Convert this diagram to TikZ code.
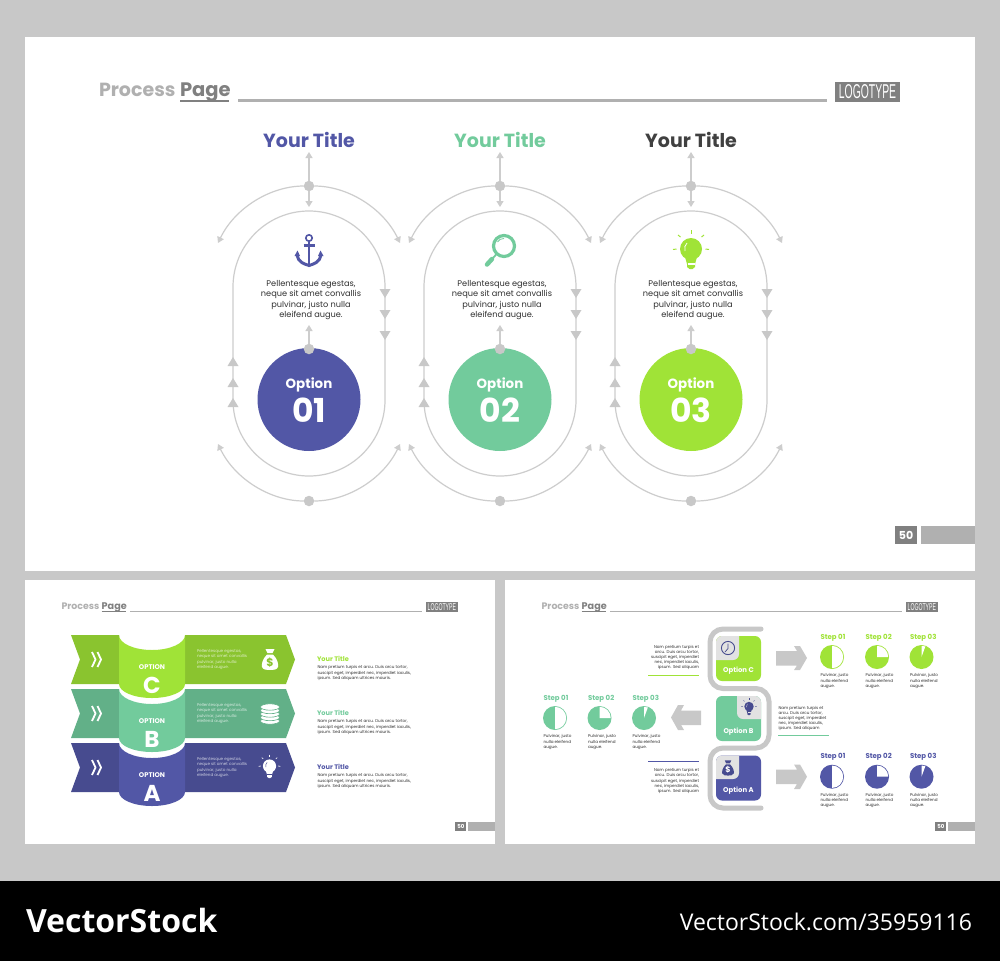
\documentclass[tikz,border=0pt]{standalone}
\usepackage{fontspec}
\setmainfont{Poppins}
\newfontfamily\logofont[FakeStretch=0.52]{Liberation Sans}
\newfontfamily\bandfont{Open Sans}
\usetikzlibrary{arrows.meta}
\definecolor{bluec}{HTML}{5257A6}
\definecolor{greenc}{HTML}{72CB9C}
\definecolor{limec}{HTML}{A0E337}
\definecolor{rblue}{HTML}{474B8F}
\definecolor{rgreen}{HTML}{62B088}
\definecolor{rlime}{HTML}{8AC42F}
\definecolor{pagegray}{HTML}{C8C8C8}
\definecolor{midgray}{HTML}{B0B0B0}
\definecolor{darkgray}{HTML}{808080}
\definecolor{linegray}{HTML}{CDCDCD}
\definecolor{cornerg}{HTML}{E2E2E2}
\definecolor{titled}{HTML}{404040}
\definecolor{bodyt}{HTML}{303030}
\tikzset{
  >={Triangle[width=7pt,length=6pt]},
  x=1pt,y=-1pt,
  every node/.style={inner sep=0pt,outer sep=0pt},
  wire/.style={draw=linegray,line width=1.2pt},
  dotn/.style={circle,fill=pagegray,minimum size=10.5pt},
  stadium/.style={wire,rounded corners=76pt,minimum width=152pt,minimum height=265pt},
  bigc/.style={circle,minimum size=103pt},
  ttl/.style={font=\fontsize{19}{19}\selectfont\bfseries},
  tbody/.style={align=center,text=bodyt,font=\fontsize{8.2}{10.4}\selectfont},
  small/.style={align=left,anchor=west,text=bodyt,font=\fontsize{4.1}{5.2}\selectfont},
  smallr/.style={small,align=right,anchor=east},
  stept/.style={anchor=west,font=\fontsize{7}{7}\selectfont\bfseries},
  blockarrow/.style={fill=pagegray},
  snake/.style={draw=pagegray,line width=5pt,rounded corners=13pt,line cap=round}
}
\newcommand\panelbox[4]{%
\begin{scope}[shift={(#2,#3)},scale=#4,every node/.append style={transform shape}]
\fill[white](0,0)rectangle(950,534);
\node(#1pr)[anchor=base west,text=midgray,font=\fontsize{19}{19}\selectfont\bfseries]at(74,59.5){Process};
\node(#1pg)[anchor=base west,text=darkgray,font=\fontsize{19.5}{19}\selectfont\bfseries]at(155,59.5){Page};
\coordinate(#1a)at(213,63.7);
\coordinate(#1b)at(802,63.7);
\coordinate(#1c)at(155,64);
\coordinate(#1d)at(204,64);
\draw[midgray,line width=#4*3pt](#1a)--(#1b);
\draw[darkgray,line width=#4*2pt](#1c)--(#1d);
\node(#1lg)[fill=darkgray,text=white,minimum width=65pt,minimum height=20pt,font=\logofont\fontsize{20}{20}\selectfont]at(842.5,55){LOGOTYPE};
\node(#1no)[fill=darkgray,text=white,minimum width=22pt,minimum height=18pt,font=\fontsize{11}{11}\selectfont\bfseries]at(881,498){50};
\fill[midgray](896,489)rectangle(950,507);
\end{scope}}
\newcommand\bulbicon[6]{%
\begin{scope}[shift={(#1,#2)},scale=#3]
\fill[#4](0,0)circle(11);
\fill[#4](-6,8)--(6,8)--(4,15)--(4,18)--(1.5,20)--(-1.5,20)--(-4,18)--(-4,15)--cycle;
\draw[#5,line width=#3*2pt](-3.5,14.5)--(3.5,14.5);
\draw[#5,line width=#3*.8pt](-6,2)..controls(-7,-1)and(-6,-4)..(-4,-6);
\draw[#6,line width=#3*1pt](0,-19)--(0,-15.5);
\draw[#6,line width=#3*1pt](-13,-14)--(-10.5,-12);
\draw[#6,line width=#3*1pt](13,-14)--(10.5,-12);
\draw[#6,line width=#3*1pt](-18,0.5)--(-14.5,0);
\draw[#6,line width=#3*1pt](18,0.5)--(14.5,0);
\end{scope}}
\newcommand\bagicon[6]{%
\begin{scope}[shift={(#2,#3)},scale=#4,every node/.append style={transform shape}]
\fill[#5](-3,-5)..controls(-8,0)and(-8.5,5)..(-8,7.5)..controls(-7,10.5)and(-3,10.5)..(0,10.5)..controls(3,10.5)and(7,10.5)..(8,7.5)..controls(8.5,5)and(8,0)..(3,-5)--cycle;
\fill[#5](-4.5,-10.5)--(4.5,-10.5)--(2.5,-6.3)--(-2.5,-6.3)--cycle;
\node(#1)[text=#6,font=\fontsize{11}{11}\selectfont\bfseries]at(0,3){\$};
\end{scope}}
\newcommand\steprow[6]{%
\foreach \i/\cx/\ang in {1/#3/90,2/#4/0,3/#5/-70}{
  \fill[#2](\cx,#6)circle(12);
  \fill[white](\cx,#6)--(\cx,#6-11.2)arc(-90:\ang:11.2)--cycle;
  \node(#1s\i)[stept,text=#2]at(\cx-11.5,#6-19.5){Step 0\i};
  \node(#1p\i)[small]at(\cx-11.5,#6+24){Pulvinar, justo\\nulla eleifend\\augue.};
}}
\begin{document}
\begin{tikzpicture}
\useasboundingbox(0,0)rectangle(1000,961);
\fill[pagegray](0,0)rectangle(1000,881);
\fill[black](0,881)rectangle(1000,961);
\panelbox{u}{25}{37}{1}
\panelbox{l}{25}{580}{.4947}
\panelbox{r}{505}{580}{.4947}
\node(vs)[anchor=west,text=white,font=\bandfont\fontsize{32}{32}\selectfont\bfseries]at(26,920){VectorStock};
\node(vu)[anchor=east,text=white,font=\bandfont\fontsize{23}{23}\selectfont]at(972,922){VectorStock.com/35959116};
\foreach \i/\cx/\col/\tcol/\num in {1/309/bluec/bluec/01,2/500/greenc/greenc/02,3/691/limec/titled/03}{
  \node(t\i)[ttl,text=\tcol]at(\cx,140){Your Title};
  \node(s\i)[stadium]at(\cx,343.5){};
  \node(c\i)[bigc,fill=\col]at(\cx,399.5){};
  \node(o\i)[text=white,font=\fontsize{13.4}{15}\selectfont\bfseries]at(\cx,385){Option};
  \node(n\i)[text=white,font=\fontsize{33}{33}\selectfont\bfseries]at(\cx,410){\num};
  \node(b\i)[tbody]at(\cx+2,300){Pellentesque egestas,\\neque sit amet convallis\\pulvinar, justo nulla\\eleifend augue.};
  \node(dt\i)[dotn]at(\cx,186){};
  \node(db\i)[dotn]at(\cx,501){};
  \node(dc\i)[dotn]at(\cx,349){};
  \coordinate(up\i)at(\cx,152);
  \coordinate(dn\i)at(\cx,207);
  \coordinate(mu\i)at(\cx,325);
  \coordinate(tl\i)at(\cx-91,243);
  \coordinate(tr\i)at(\cx+91,243);
  \coordinate(bl\i)at(\cx-91,444);
  \coordinate(br\i)at(\cx+91,444);
  \draw[wire,->](dt\i)--(up\i);
  \draw[wire,->](dt\i)--(dn\i);
  \draw[wire,->](dc\i)--(mu\i);
  \draw[wire,->](dt\i)..controls +(-38.7,0) and +(16.8,-34.9)..(tl\i);
  \draw[wire,->](dt\i)..controls +(38.7,0) and +(-16.8,-34.9)..(tr\i);
  \draw[wire,->](db\i)..controls +(-38.7,0) and +(16.8,34.9)..(bl\i);
  \draw[wire,->](db\i)..controls +(38.7,0) and +(-16.8,34.9)..(br\i);
  \foreach \y in {289,310,331}{
    \fill[pagegray](\cx+70.5,\y)--(\cx+81.5,\y)--(\cx+76,\y+9)--cycle;
  }
  \foreach \y in {366,387,407}{
    \fill[pagegray](\cx-81.5,\y)--(\cx-70.5,\y)--(\cx-76,\y-9)--cycle;
  }
}
\begin{scope}[bluec]
\draw[line width=1.6pt](309,238)circle(3.2);
\draw[line width=2.6pt](309,241)--(309,265);
\draw[line width=2.2pt](303.5,245.5)--(314.5,245.5);
\draw[line width=3pt](297,255)..controls(298,262)and(304,264)..(309,265.5)..controls(314,264)and(320,262)..(321,255);
\fill(294.5,256)--(297.5,250.5)--(300,256)--cycle;
\fill(318,256)--(320.5,250.5)--(323.5,256)--cycle;
\end{scope}
\begin{scope}[greenc]
\draw[line width=3.2pt](504,246)circle(10.5);
\draw[line width=1.8pt](497,253.5)--(493,258);
\draw[line width=4.5pt,line cap=round](492,259)--(487,264.5);
\draw[line width=.8pt](497.5,242)..controls(499,239.5)and(501,238.5)..(504,238.5);
\end{scope}
\bulbicon{691}{249}{1}{limec}{white}{limec}
\foreach \nm/\rc/\cc/\y/\tc/\lt in {c/rlime/limec/635/limec/C,b/rgreen/greenc/689/greenc/B,a/rblue/bluec/743/bluec/A}{
  \fill[\rc](71,\y)--(119,\y)--(119,\y+49)--(71,\y+49)--(80,\y+24.5)--cycle;
  \fill[\rc](185,\y)--(286,\y)--(295,\y+24.5)--(286,\y+49)--(185,\y+49)--cycle;
  \fill[\cc](119,\y)arc(180:0:33 and 15)--(185,\y+49)arc(0:180:33 and 14)--cycle;
  \draw[white,line width=1.8pt](92,\y+17)--(95.5,\y+24.5)--(92,\y+32);
  \draw[white,line width=1.8pt](97.5,\y+17)--(101,\y+24.5)--(97.5,\y+32);
  \node(op\nm)[text=white,font=\fontsize{6.8}{7}\selectfont\bfseries]at(152,\y+32){OPTION};
  \node(le\nm)[text=white,font=\fontsize{23}{23}\selectfont\bfseries]at(152,\y+50.5){\lt};
  \node(rt\nm)[small,text=white!72!\rc]at(197,\y+24.5){Pellentesque egestas,\\neque sit amet convallis\\pulvinar, justo nulla\\eleifend augue.};
  \node(ti\nm)[anchor=west,text=\tc,font=\fontsize{6.6}{7}\selectfont\bfseries]at(317,\y+23.5){Your Title};
  \node(de\nm)[small]at(317.5,\y+38){Nam pretium turpis et arcu. Duis arcu tortor,\\suscipit eget, imperdiet nec, imperdiet iaculis,\\ipsum. Sed aliquam ultrices mauris.};
}
\bagicon{bagc}{270}{659.5}{1}{white}{rlime}
\foreach \y in {721,717.5,714,710.5,707}{
  \filldraw[fill=white,draw=rgreen,line width=.6pt](270,\y)ellipse(9.5 and 3.2);
}
\bulbicon{269.5}{766}{.6}{white}{rblue}{white}
\coordinate(sn0)at(761,629);
\coordinate(sn1)at(710,629);
\coordinate(sn2)at(710,688.5);
\coordinate(sn3)at(769,688.5);
\coordinate(sn4)at(769,748);
\coordinate(sn5)at(710,748);
\coordinate(sn6)at(710,808);
\coordinate(sn7)at(761,808);
\draw[snake](sn0)--(sn1)--(sn2)--(sn3)--(sn4)--(sn5)--(sn6)--(sn7);
\node(oc)[fill=limec,rounded corners=6pt,minimum size=45pt]at(738.5,658.5){};
\node(ob)[fill=greenc,rounded corners=6pt,minimum size=45pt]at(738.5,718.5){};
\node(oa)[fill=bluec,rounded corners=6pt,minimum size=45pt]at(738.5,778){};
\fill[cornerg](716,660)--(716,642)arc(180:270:6)--(739,636)--(739,654)arc(0:90:6)--cycle;
\fill[cornerg](737,696)--(755,696)arc(-90:0:6)--(761,719)--(743,719)arc(90:180:6)--cycle;
\fill[cornerg](716,779)--(716,761.5)arc(180:270:6)--(739,755.5)--(739,773)arc(0:90:6)--cycle;
\node(lc)[text=white,font=\fontsize{6.9}{7}\selectfont\bfseries]at(738.5,671){Option C};
\node(lb)[text=white,font=\fontsize{6.9}{7}\selectfont\bfseries]at(738.5,731.5){Option B};
\node(la)[text=white,font=\fontsize{6.9}{7}\selectfont\bfseries]at(738.5,791){Option A};
\draw[rblue,line width=.9pt](728,648)circle(6.6);
\draw[rblue,line width=.7pt](728,643.5)--(728,648.5)--(725,652);
\bulbicon{749}{706.5}{.43}{rblue}{cornerg}{rblue}
\bagicon{baga}{728}{768}{.72}{rblue}{white}
\node(tc)[smallr]at(699,657.5){Nam pretium turpis et\\arcu. Duis arcu tortor,\\suscipit eget, imperdiet\\nec, imperdiet iaculis,\\ipsum. Sed aliquam};
\node(ta)[smallr]at(699,781){Nam pretium turpis et\\arcu. Duis arcu tortor,\\suscipit eget, imperdiet\\nec, imperdiet iaculis,\\ipsum. Sed aliquam};
\node(tb)[small]at(778.5,718.5){Nam pretium turpis et\\arcu. Duis arcu tortor,\\suscipit eget, imperdiet\\nec, imperdiet iaculis,\\ipsum. Sed aliquam};
\draw[limec,line width=.7pt](648,675.3)--(699,675.3);
\draw[bluec,line width=.7pt](648,761.5)--(699,761.5);
\draw[greenc,line width=.7pt](778,735.3)--(829,735.3);
\fill[blockarrow](776,651)--(797,651)--(794,646)--(800,646)--(807,658)--(800,670)--(794,670)--(797,665.5)--(776,665.5)--cycle;
\fill[blockarrow](776,769.5)--(797,769.5)--(794,764.5)--(800,764.5)--(807,776.7)--(800,789)--(794,789)--(797,784)--(776,784)--cycle;
\fill[blockarrow](701,710.5)--(681,710.5)--(684,705)--(678,705)--(671,717.5)--(678,730)--(684,730)--(681,725)--(701,725)--cycle;
\steprow{cr}{limec}{832}{877}{921.5}{657}
\steprow{ar}{bluec}{832}{877}{921.5}{776.7}
\steprow{bl}{greenc}{555}{599.5}{644}{718}
\end{tikzpicture}
\end{document}
